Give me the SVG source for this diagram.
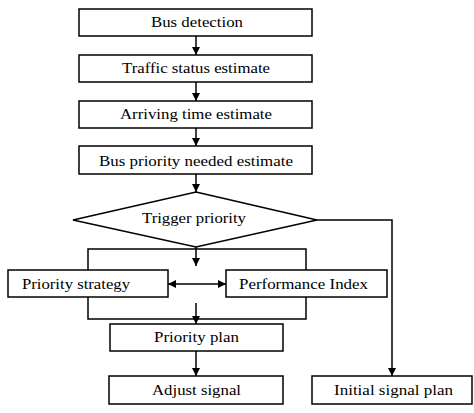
<svg xmlns="http://www.w3.org/2000/svg" width="474" height="413" viewBox="0 0 474 413">
<style>
.b{fill:#fff;stroke:#000;stroke-width:1.5}
.t{font-family:"Liberation Serif","Times New Roman",serif;font-size:14.5px;fill:#000}
.c{fill:none;stroke:#000;stroke-width:1.5}
</style>
<defs>
<marker id="a" markerWidth="8" markerHeight="8" refX="8" refY="4" orient="auto" markerUnits="userSpaceOnUse">
<path d="M0,0 L8,4 L0,8 z" fill="#000"/>
</marker>
<marker id="s" markerWidth="8" markerHeight="8" refX="0" refY="4" orient="auto" markerUnits="userSpaceOnUse">
<path d="M8,0 L0,4 L8,8 z" fill="#000"/>
</marker>
</defs>
<rect width="474" height="413" fill="#fff"/>
<g id="connectors">
<line class="c" x1="196" y1="36" x2="196" y2="55" marker-end="url(#a)"/>
<line class="c" x1="196" y1="82" x2="196" y2="101" marker-end="url(#a)"/>
<line class="c" x1="196" y1="128" x2="196" y2="146" marker-end="url(#a)"/>
<line class="c" x1="196" y1="174" x2="196" y2="192" marker-end="url(#a)"/>
<line class="c" x1="196" y1="247" x2="196" y2="266" marker-end="url(#a)"/>
<polyline class="c" points="88,270 88,249 306,249 306,270"/>
<line class="c" x1="168" y1="284" x2="226" y2="284" marker-start="url(#s)" marker-end="url(#a)"/>
<polyline class="c" points="88,297 88,319 306,319 306,297"/>
<line class="c" x1="196" y1="303" x2="196" y2="324" marker-end="url(#a)"/>
<line class="c" x1="196" y1="351" x2="196" y2="376" marker-end="url(#a)"/>
<polyline class="c" points="317,220 392,220 392,376" marker-end="url(#a)"/>
</g>
<g id="n1"><rect class="b" x="79" y="9" width="233" height="27"/><text class="t" x="151" y="27" textLength="92" lengthAdjust="spacingAndGlyphs">Bus detection</text></g>
<g id="n2"><rect class="b" x="79" y="55" width="233" height="27"/><text class="t" x="122" y="73" textLength="148" lengthAdjust="spacingAndGlyphs">Traffic status estimate</text></g>
<g id="n3"><rect class="b" x="79" y="101" width="233" height="27"/><text class="t" x="120" y="119" textLength="152" lengthAdjust="spacingAndGlyphs">Arriving time estimate</text></g>
<g id="n4"><rect class="b" x="79" y="146" width="233" height="28"/><text class="t" x="99" y="166" textLength="194" lengthAdjust="spacingAndGlyphs">Bus priority needed estimate</text></g>
<g id="n5"><polygon class="b" points="196,192 317,220 196,247 73,220"/><text class="t" x="142" y="223" textLength="104" lengthAdjust="spacingAndGlyphs">Trigger priority</text></g>
<g id="n6"><rect class="b" x="8" y="270" width="160" height="27"/><text class="t" x="22" y="289" textLength="108" lengthAdjust="spacingAndGlyphs">Priority strategy</text></g>
<g id="n7"><rect class="b" x="226" y="270" width="161" height="27"/><text class="t" x="239" y="289" textLength="129" lengthAdjust="spacingAndGlyphs">Performance Index</text></g>
<g id="n8"><rect class="b" x="110" y="324" width="173" height="27"/><text class="t" x="154" y="342" textLength="85" lengthAdjust="spacingAndGlyphs">Priority plan</text></g>
<g id="n9"><rect class="b" x="109" y="376" width="174" height="28"/><text class="t" x="152" y="395" textLength="89" lengthAdjust="spacingAndGlyphs">Adjust signal</text></g>
<g id="n10"><rect class="b" x="312" y="376" width="160" height="28"/><text class="t" x="334" y="395" textLength="119" lengthAdjust="spacingAndGlyphs">Initial signal plan</text></g>
</svg>
